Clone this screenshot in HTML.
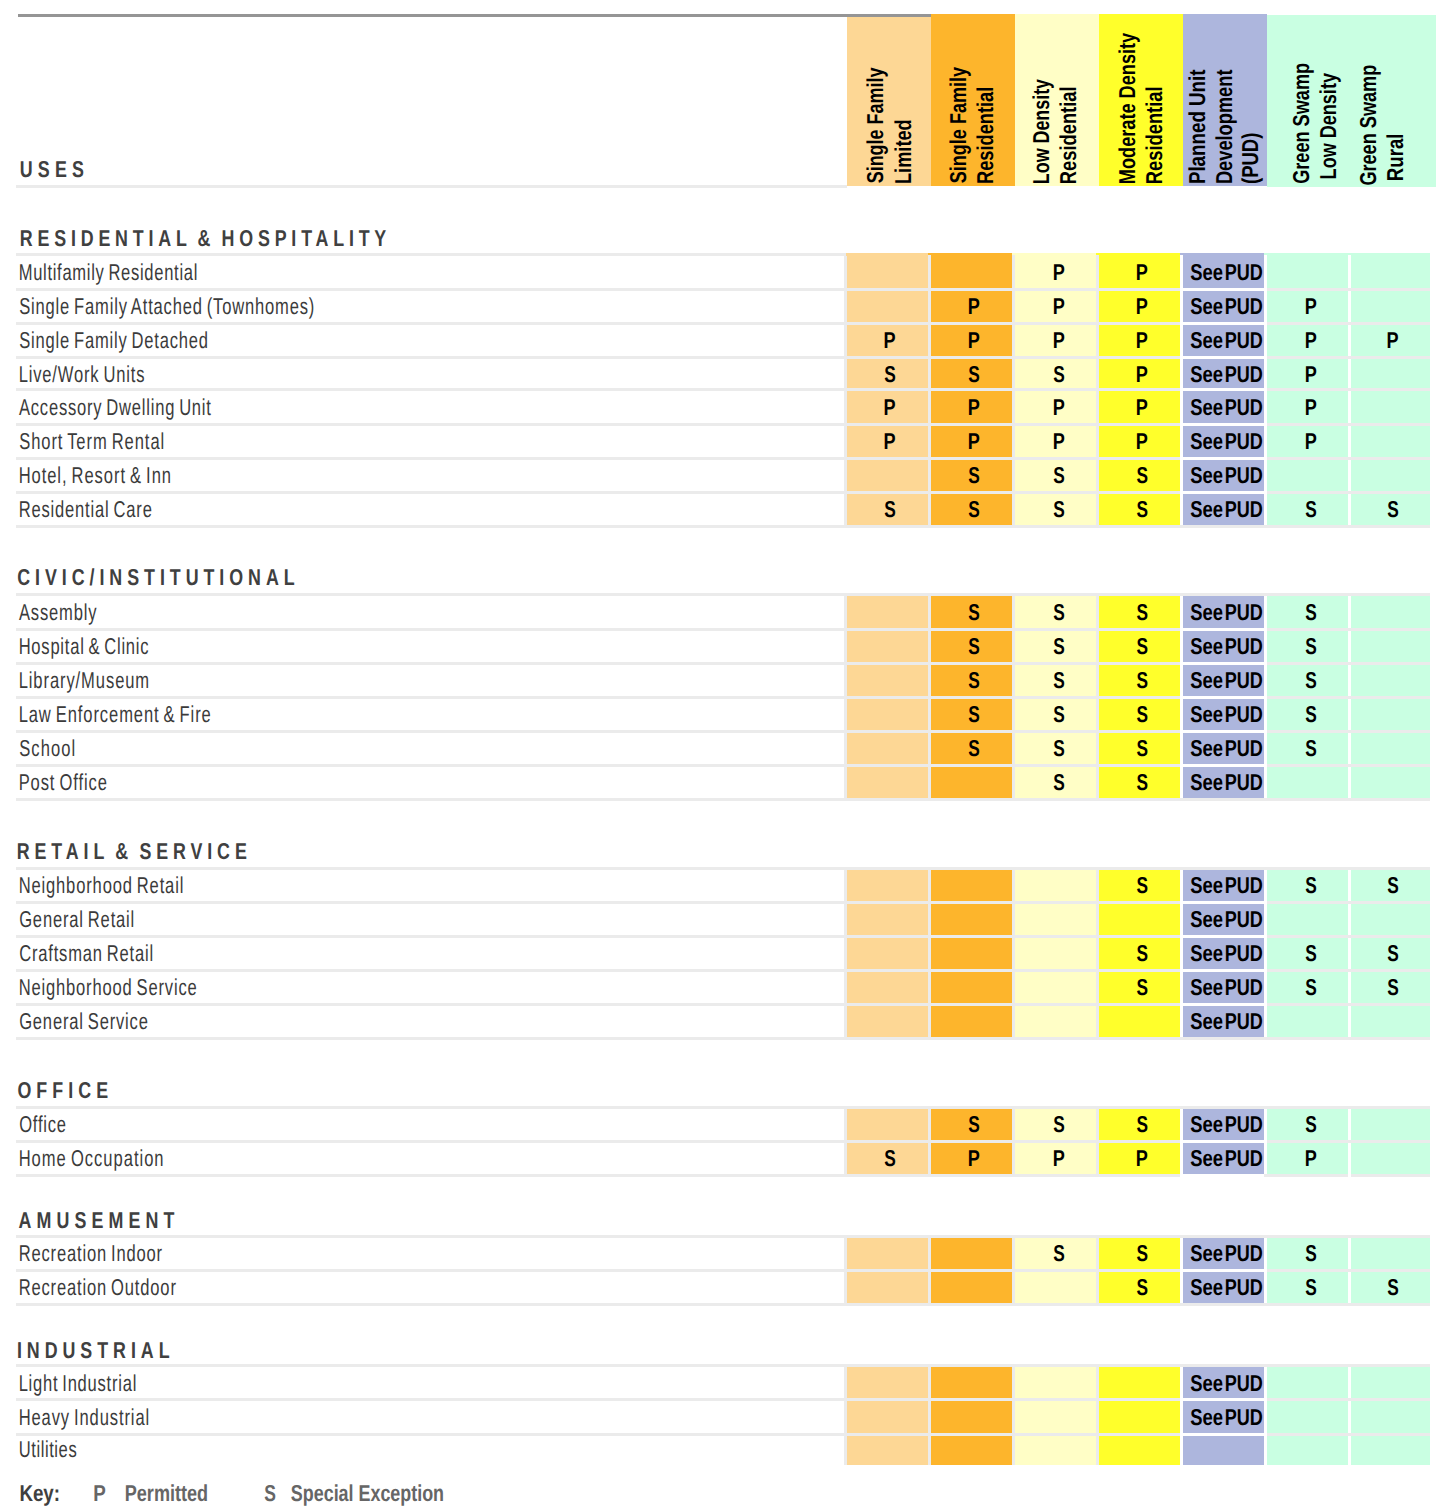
<!DOCTYPE html>
<html><head><meta charset="utf-8"><style>
html,body{margin:0;padding:0;background:#fff;}
svg{display:block;}
text{font-family:"Liberation Sans",sans-serif;font-size:23px;text-rendering:geometricPrecision;}
</style></head><body>
<svg width="1452" height="1506" viewBox="0 0 1452 1506">
<rect width="1452" height="1506" fill="#FFFFFF"/>
<rect x="847" y="17" width="84" height="169" fill="#FDD795"/>
<rect x="931" y="14" width="84" height="172" fill="#FDB52C"/>
<rect x="1015" y="14" width="84" height="172" fill="#FFFEC6"/>
<rect x="1099" y="14" width="84" height="172" fill="#FFFF2B"/>
<rect x="1183" y="14" width="84" height="172" fill="#ADB6DD"/>
<rect x="1267" y="15" width="169" height="172" fill="#C9FFE2"/>
<rect x="18" y="14" width="913" height="3" fill="#959595"/>
<rect x="16" y="185" width="831" height="3" fill="#EBEBEB"/>
<text transform="translate(883.0,183.35) rotate(-90) scale(0.7815,1)" font-weight="bold" fill="#000">Single Family</text>
<text transform="translate(911.1,183.99) rotate(-90) scale(0.7906,1)" font-weight="bold" fill="#000">Limited</text>
<text transform="translate(966.0,183.35) rotate(-90) scale(0.7856,1)" font-weight="bold" fill="#000">Single Family</text>
<text transform="translate(993.1,183.99) rotate(-90) scale(0.7926,1)" font-weight="bold" fill="#000">Residential</text>
<text transform="translate(1049.3,184.16) rotate(-90) scale(0.7765,1)" font-weight="bold" fill="#000">Low Density</text>
<text transform="translate(1076.1,184.20) rotate(-90) scale(0.7968,1)" font-weight="bold" fill="#000">Residential</text>
<text transform="translate(1134.8,184.18) rotate(-90) scale(0.7896,1)" font-weight="bold" fill="#000">Moderate Density</text>
<text transform="translate(1162.2,184.20) rotate(-90) scale(0.7968,1)" font-weight="bold" fill="#000">Residential</text>
<text transform="translate(1204.9,184.12) rotate(-90) scale(0.8156,1)" font-weight="bold" fill="#000">Planned Unit</text>
<text transform="translate(1232.0,184.09) rotate(-90) scale(0.7933,1)" font-weight="bold" fill="#000">Development</text>
<text transform="translate(1257.8,183.98) rotate(-90) scale(0.8036,1)" font-weight="bold" fill="#000">(PUD)</text>
<text transform="translate(1309.0,183.81) rotate(-90) scale(0.7881,1)" font-weight="bold" fill="#000">Green Swamp</text>
<text transform="translate(1336.0,179.38) rotate(-90) scale(0.7848,1)" font-weight="bold" fill="#000">Low Density</text>
<text transform="translate(1376.1,185.61) rotate(-90) scale(0.7881,1)" font-weight="bold" fill="#000">Green Swamp</text>
<text transform="translate(1403.0,181.22) rotate(-90) scale(0.8115,1)" font-weight="bold" fill="#000">Rural</text>
<rect x="16" y="253" width="1414" height="3" fill="#EBEBEB"/>
<rect x="16" y="288" width="1414" height="3" fill="#EBEBEB"/>
<rect x="16" y="322" width="1414" height="3" fill="#EBEBEB"/>
<rect x="16" y="356" width="1414" height="3" fill="#EBEBEB"/>
<rect x="16" y="388" width="1414" height="3" fill="#EBEBEB"/>
<rect x="16" y="423" width="1414" height="3" fill="#EBEBEB"/>
<rect x="16" y="457" width="1414" height="3" fill="#EBEBEB"/>
<rect x="16" y="491" width="1414" height="3" fill="#EBEBEB"/>
<rect x="16" y="525" width="1414" height="3" fill="#EBEBEB"/>
<rect x="844" y="253" width="3" height="275" fill="#EBEBEB"/>
<rect x="928" y="255" width="3" height="273" fill="#EBEBEB"/>
<rect x="1012" y="255" width="3" height="273" fill="#EBEBEB"/>
<rect x="1096" y="255" width="3" height="273" fill="#EBEBEB"/>
<rect x="847" y="256" width="81" height="32" fill="#FDD795"/>
<rect x="931" y="256" width="81" height="32" fill="#FDB52C"/>
<rect x="1015" y="256" width="81" height="32" fill="#FFFEC6"/>
<rect x="1099" y="256" width="81" height="32" fill="#FFFF2B"/>
<rect x="1183" y="256" width="81" height="32" fill="#ADB6DD"/>
<rect x="1267" y="256" width="81" height="32" fill="#C9FFE2"/>
<rect x="1351" y="256" width="79" height="32" fill="#C9FFE2"/>
<rect x="847" y="291" width="81" height="31" fill="#FDD795"/>
<rect x="931" y="291" width="81" height="31" fill="#FDB52C"/>
<rect x="1015" y="291" width="81" height="31" fill="#FFFEC6"/>
<rect x="1099" y="291" width="81" height="31" fill="#FFFF2B"/>
<rect x="1183" y="291" width="81" height="31" fill="#ADB6DD"/>
<rect x="1267" y="291" width="81" height="31" fill="#C9FFE2"/>
<rect x="1351" y="291" width="79" height="31" fill="#C9FFE2"/>
<rect x="847" y="325" width="81" height="31" fill="#FDD795"/>
<rect x="931" y="325" width="81" height="31" fill="#FDB52C"/>
<rect x="1015" y="325" width="81" height="31" fill="#FFFEC6"/>
<rect x="1099" y="325" width="81" height="31" fill="#FFFF2B"/>
<rect x="1183" y="325" width="81" height="31" fill="#ADB6DD"/>
<rect x="1267" y="325" width="81" height="31" fill="#C9FFE2"/>
<rect x="1351" y="325" width="79" height="31" fill="#C9FFE2"/>
<rect x="847" y="359" width="81" height="29" fill="#FDD795"/>
<rect x="931" y="359" width="81" height="29" fill="#FDB52C"/>
<rect x="1015" y="359" width="81" height="29" fill="#FFFEC6"/>
<rect x="1099" y="359" width="81" height="29" fill="#FFFF2B"/>
<rect x="1183" y="359" width="81" height="29" fill="#ADB6DD"/>
<rect x="1267" y="359" width="81" height="29" fill="#C9FFE2"/>
<rect x="1351" y="359" width="79" height="29" fill="#C9FFE2"/>
<rect x="847" y="391" width="81" height="32" fill="#FDD795"/>
<rect x="931" y="391" width="81" height="32" fill="#FDB52C"/>
<rect x="1015" y="391" width="81" height="32" fill="#FFFEC6"/>
<rect x="1099" y="391" width="81" height="32" fill="#FFFF2B"/>
<rect x="1183" y="391" width="81" height="32" fill="#ADB6DD"/>
<rect x="1267" y="391" width="81" height="32" fill="#C9FFE2"/>
<rect x="1351" y="391" width="79" height="32" fill="#C9FFE2"/>
<rect x="847" y="426" width="81" height="31" fill="#FDD795"/>
<rect x="931" y="426" width="81" height="31" fill="#FDB52C"/>
<rect x="1015" y="426" width="81" height="31" fill="#FFFEC6"/>
<rect x="1099" y="426" width="81" height="31" fill="#FFFF2B"/>
<rect x="1183" y="426" width="81" height="31" fill="#ADB6DD"/>
<rect x="1267" y="426" width="81" height="31" fill="#C9FFE2"/>
<rect x="1351" y="426" width="79" height="31" fill="#C9FFE2"/>
<rect x="847" y="460" width="81" height="31" fill="#FDD795"/>
<rect x="931" y="460" width="81" height="31" fill="#FDB52C"/>
<rect x="1015" y="460" width="81" height="31" fill="#FFFEC6"/>
<rect x="1099" y="460" width="81" height="31" fill="#FFFF2B"/>
<rect x="1183" y="460" width="81" height="31" fill="#ADB6DD"/>
<rect x="1267" y="460" width="81" height="31" fill="#C9FFE2"/>
<rect x="1351" y="460" width="79" height="31" fill="#C9FFE2"/>
<rect x="847" y="494" width="81" height="31" fill="#FDD795"/>
<rect x="931" y="494" width="81" height="31" fill="#FDB52C"/>
<rect x="1015" y="494" width="81" height="31" fill="#FFFEC6"/>
<rect x="1099" y="494" width="81" height="31" fill="#FFFF2B"/>
<rect x="1183" y="494" width="81" height="31" fill="#ADB6DD"/>
<rect x="1267" y="494" width="81" height="31" fill="#C9FFE2"/>
<rect x="1351" y="494" width="79" height="31" fill="#C9FFE2"/>
<rect x="846" y="253" width="82" height="3" fill="#FDD795"/>
<rect x="928" y="253" width="84" height="2" fill="#FDB52C"/>
<rect x="931" y="255" width="81" height="1" fill="#FDB52C"/>
<rect x="1012" y="253" width="84" height="2" fill="#FFFEC6"/>
<rect x="1015" y="255" width="81" height="1" fill="#FFFEC6"/>
<rect x="1096" y="253" width="84" height="2" fill="#FFFF2B"/>
<rect x="1099" y="255" width="81" height="1" fill="#FFFF2B"/>
<rect x="1180" y="253" width="84" height="2" fill="#ADB6DD"/>
<rect x="1183" y="255" width="81" height="1" fill="#ADB6DD"/>
<rect x="1264" y="253" width="84" height="2" fill="#C9FFE2"/>
<rect x="1267" y="255" width="81" height="1" fill="#C9FFE2"/>
<rect x="1348" y="253" width="82" height="2" fill="#C9FFE2"/>
<rect x="1351" y="255" width="79" height="1" fill="#C9FFE2"/>
<rect x="1180" y="288" width="87" height="3" fill="#FFFFFF"/>
<rect x="1180" y="322" width="87" height="3" fill="#FFFFFF"/>
<rect x="1180" y="356" width="87" height="3" fill="#FFFFFF"/>
<rect x="1180" y="388" width="87" height="3" fill="#FFFFFF"/>
<rect x="1180" y="423" width="87" height="3" fill="#FFFFFF"/>
<rect x="1180" y="457" width="87" height="3" fill="#FFFFFF"/>
<rect x="1180" y="491" width="87" height="3" fill="#FFFFFF"/>
<rect x="1180" y="255" width="3" height="270" fill="#FFFFFF"/>
<rect x="1264" y="255" width="3" height="270" fill="#FFFFFF"/>
<rect x="1348" y="255" width="3" height="270" fill="#FFFFFF"/>
<rect x="1348" y="288" width="3" height="3" fill="#EBEBEB"/>
<rect x="1348" y="322" width="3" height="3" fill="#EBEBEB"/>
<rect x="1348" y="356" width="3" height="3" fill="#EBEBEB"/>
<rect x="1348" y="388" width="3" height="3" fill="#EBEBEB"/>
<rect x="1348" y="423" width="3" height="3" fill="#EBEBEB"/>
<rect x="1348" y="457" width="3" height="3" fill="#EBEBEB"/>
<rect x="1348" y="491" width="3" height="3" fill="#EBEBEB"/>
<text transform="translate(19.84,246) scale(0.7750,1)" font-weight="bold" letter-spacing="6.214" word-spacing="-4.5" fill="#404040" xml:space="preserve">RESIDENTIAL &amp; HOSPITALITY</text>
<text transform="translate(18.63,280) scale(0.7200,1)" letter-spacing="0.976" word-spacing="-2.0" fill="#3B3B3B" xml:space="preserve">Multifamily Residential</text>
<text transform="translate(1052.72,280) scale(0.7863,1)" font-weight="bold" fill="#000000">P</text>
<text transform="translate(1135.82,280) scale(0.7863,1)" font-weight="bold" fill="#000000">P</text>
<text transform="translate(1190.14,280) scale(0.7995,1)" font-weight="bold" fill="#000000">See</text>
<text transform="translate(1224.72,280) scale(0.7852,1)" font-weight="bold" fill="#000000">PUD</text>
<text transform="translate(19.21,314) scale(0.7200,1)" letter-spacing="1.135" word-spacing="-2.0" fill="#3B3B3B" xml:space="preserve">Single Family Attached (Townhomes)</text>
<text transform="translate(967.72,314) scale(0.7863,1)" font-weight="bold" fill="#000000">P</text>
<text transform="translate(1052.72,314) scale(0.7863,1)" font-weight="bold" fill="#000000">P</text>
<text transform="translate(1135.82,314) scale(0.7863,1)" font-weight="bold" fill="#000000">P</text>
<text transform="translate(1190.14,314) scale(0.7995,1)" font-weight="bold" fill="#000000">See</text>
<text transform="translate(1224.72,314) scale(0.7852,1)" font-weight="bold" fill="#000000">PUD</text>
<text transform="translate(1304.72,314) scale(0.7863,1)" font-weight="bold" fill="#000000">P</text>
<text transform="translate(19.21,348) scale(0.7200,1)" letter-spacing="1.115" word-spacing="-2.0" fill="#3B3B3B" xml:space="preserve">Single Family Detached</text>
<text transform="translate(883.62,348) scale(0.7863,1)" font-weight="bold" fill="#000000">P</text>
<text transform="translate(967.72,348) scale(0.7863,1)" font-weight="bold" fill="#000000">P</text>
<text transform="translate(1052.72,348) scale(0.7863,1)" font-weight="bold" fill="#000000">P</text>
<text transform="translate(1135.82,348) scale(0.7863,1)" font-weight="bold" fill="#000000">P</text>
<text transform="translate(1190.14,348) scale(0.7995,1)" font-weight="bold" fill="#000000">See</text>
<text transform="translate(1224.72,348) scale(0.7852,1)" font-weight="bold" fill="#000000">PUD</text>
<text transform="translate(1304.72,348) scale(0.7863,1)" font-weight="bold" fill="#000000">P</text>
<text transform="translate(1386.62,348) scale(0.7863,1)" font-weight="bold" fill="#000000">P</text>
<text transform="translate(18.63,382) scale(0.7200,1)" letter-spacing="1.156" word-spacing="-2.0" fill="#3B3B3B" xml:space="preserve">Live/Work Units</text>
<text transform="translate(884.27,382) scale(0.7518,1)" font-weight="bold" fill="#000000">S</text>
<text transform="translate(968.37,382) scale(0.7518,1)" font-weight="bold" fill="#000000">S</text>
<text transform="translate(1053.37,382) scale(0.7518,1)" font-weight="bold" fill="#000000">S</text>
<text transform="translate(1135.82,382) scale(0.7863,1)" font-weight="bold" fill="#000000">P</text>
<text transform="translate(1190.14,382) scale(0.7995,1)" font-weight="bold" fill="#000000">See</text>
<text transform="translate(1224.72,382) scale(0.7852,1)" font-weight="bold" fill="#000000">PUD</text>
<text transform="translate(1304.72,382) scale(0.7863,1)" font-weight="bold" fill="#000000">P</text>
<text transform="translate(18.93,415) scale(0.7200,1)" letter-spacing="1.090" word-spacing="-2.0" fill="#3B3B3B" xml:space="preserve">Accessory Dwelling Unit</text>
<text transform="translate(883.62,415) scale(0.7863,1)" font-weight="bold" fill="#000000">P</text>
<text transform="translate(967.72,415) scale(0.7863,1)" font-weight="bold" fill="#000000">P</text>
<text transform="translate(1052.72,415) scale(0.7863,1)" font-weight="bold" fill="#000000">P</text>
<text transform="translate(1135.82,415) scale(0.7863,1)" font-weight="bold" fill="#000000">P</text>
<text transform="translate(1190.14,415) scale(0.7995,1)" font-weight="bold" fill="#000000">See</text>
<text transform="translate(1224.72,415) scale(0.7852,1)" font-weight="bold" fill="#000000">PUD</text>
<text transform="translate(1304.72,415) scale(0.7863,1)" font-weight="bold" fill="#000000">P</text>
<text transform="translate(19.21,449) scale(0.7200,1)" letter-spacing="1.278" word-spacing="-2.0" fill="#3B3B3B" xml:space="preserve">Short Term Rental</text>
<text transform="translate(883.62,449) scale(0.7863,1)" font-weight="bold" fill="#000000">P</text>
<text transform="translate(967.72,449) scale(0.7863,1)" font-weight="bold" fill="#000000">P</text>
<text transform="translate(1052.72,449) scale(0.7863,1)" font-weight="bold" fill="#000000">P</text>
<text transform="translate(1135.82,449) scale(0.7863,1)" font-weight="bold" fill="#000000">P</text>
<text transform="translate(1190.14,449) scale(0.7995,1)" font-weight="bold" fill="#000000">See</text>
<text transform="translate(1224.72,449) scale(0.7852,1)" font-weight="bold" fill="#000000">PUD</text>
<text transform="translate(1304.72,449) scale(0.7863,1)" font-weight="bold" fill="#000000">P</text>
<text transform="translate(18.63,483) scale(0.7200,1)" letter-spacing="1.294" word-spacing="-2.0" fill="#3B3B3B" xml:space="preserve">Hotel, Resort &amp; Inn</text>
<text transform="translate(968.37,483) scale(0.7518,1)" font-weight="bold" fill="#000000">S</text>
<text transform="translate(1053.37,483) scale(0.7518,1)" font-weight="bold" fill="#000000">S</text>
<text transform="translate(1136.47,483) scale(0.7518,1)" font-weight="bold" fill="#000000">S</text>
<text transform="translate(1190.14,483) scale(0.7995,1)" font-weight="bold" fill="#000000">See</text>
<text transform="translate(1224.72,483) scale(0.7852,1)" font-weight="bold" fill="#000000">PUD</text>
<text transform="translate(18.63,517) scale(0.7200,1)" letter-spacing="1.132" word-spacing="-2.0" fill="#3B3B3B" xml:space="preserve">Residential Care</text>
<text transform="translate(884.27,517) scale(0.7518,1)" font-weight="bold" fill="#000000">S</text>
<text transform="translate(968.37,517) scale(0.7518,1)" font-weight="bold" fill="#000000">S</text>
<text transform="translate(1053.37,517) scale(0.7518,1)" font-weight="bold" fill="#000000">S</text>
<text transform="translate(1136.47,517) scale(0.7518,1)" font-weight="bold" fill="#000000">S</text>
<text transform="translate(1190.14,517) scale(0.7995,1)" font-weight="bold" fill="#000000">See</text>
<text transform="translate(1224.72,517) scale(0.7852,1)" font-weight="bold" fill="#000000">PUD</text>
<text transform="translate(1305.37,517) scale(0.7518,1)" font-weight="bold" fill="#000000">S</text>
<text transform="translate(1387.27,517) scale(0.7518,1)" font-weight="bold" fill="#000000">S</text>
<rect x="16" y="593" width="1414" height="3" fill="#EBEBEB"/>
<rect x="16" y="628" width="1414" height="3" fill="#EBEBEB"/>
<rect x="16" y="662" width="1414" height="3" fill="#EBEBEB"/>
<rect x="16" y="696" width="1414" height="3" fill="#EBEBEB"/>
<rect x="16" y="730" width="1414" height="3" fill="#EBEBEB"/>
<rect x="16" y="764" width="1414" height="3" fill="#EBEBEB"/>
<rect x="16" y="798" width="1414" height="3" fill="#EBEBEB"/>
<rect x="844" y="593" width="3" height="208" fill="#EBEBEB"/>
<rect x="928" y="596" width="3" height="205" fill="#EBEBEB"/>
<rect x="1012" y="596" width="3" height="205" fill="#EBEBEB"/>
<rect x="1096" y="596" width="3" height="205" fill="#EBEBEB"/>
<rect x="847" y="596" width="81" height="32" fill="#FDD795"/>
<rect x="931" y="596" width="81" height="32" fill="#FDB52C"/>
<rect x="1015" y="596" width="81" height="32" fill="#FFFEC6"/>
<rect x="1099" y="596" width="81" height="32" fill="#FFFF2B"/>
<rect x="1183" y="596" width="81" height="32" fill="#ADB6DD"/>
<rect x="1267" y="596" width="81" height="32" fill="#C9FFE2"/>
<rect x="1351" y="596" width="79" height="32" fill="#C9FFE2"/>
<rect x="847" y="631" width="81" height="31" fill="#FDD795"/>
<rect x="931" y="631" width="81" height="31" fill="#FDB52C"/>
<rect x="1015" y="631" width="81" height="31" fill="#FFFEC6"/>
<rect x="1099" y="631" width="81" height="31" fill="#FFFF2B"/>
<rect x="1183" y="631" width="81" height="31" fill="#ADB6DD"/>
<rect x="1267" y="631" width="81" height="31" fill="#C9FFE2"/>
<rect x="1351" y="631" width="79" height="31" fill="#C9FFE2"/>
<rect x="847" y="665" width="81" height="31" fill="#FDD795"/>
<rect x="931" y="665" width="81" height="31" fill="#FDB52C"/>
<rect x="1015" y="665" width="81" height="31" fill="#FFFEC6"/>
<rect x="1099" y="665" width="81" height="31" fill="#FFFF2B"/>
<rect x="1183" y="665" width="81" height="31" fill="#ADB6DD"/>
<rect x="1267" y="665" width="81" height="31" fill="#C9FFE2"/>
<rect x="1351" y="665" width="79" height="31" fill="#C9FFE2"/>
<rect x="847" y="699" width="81" height="31" fill="#FDD795"/>
<rect x="931" y="699" width="81" height="31" fill="#FDB52C"/>
<rect x="1015" y="699" width="81" height="31" fill="#FFFEC6"/>
<rect x="1099" y="699" width="81" height="31" fill="#FFFF2B"/>
<rect x="1183" y="699" width="81" height="31" fill="#ADB6DD"/>
<rect x="1267" y="699" width="81" height="31" fill="#C9FFE2"/>
<rect x="1351" y="699" width="79" height="31" fill="#C9FFE2"/>
<rect x="847" y="733" width="81" height="31" fill="#FDD795"/>
<rect x="931" y="733" width="81" height="31" fill="#FDB52C"/>
<rect x="1015" y="733" width="81" height="31" fill="#FFFEC6"/>
<rect x="1099" y="733" width="81" height="31" fill="#FFFF2B"/>
<rect x="1183" y="733" width="81" height="31" fill="#ADB6DD"/>
<rect x="1267" y="733" width="81" height="31" fill="#C9FFE2"/>
<rect x="1351" y="733" width="79" height="31" fill="#C9FFE2"/>
<rect x="847" y="767" width="81" height="31" fill="#FDD795"/>
<rect x="931" y="767" width="81" height="31" fill="#FDB52C"/>
<rect x="1015" y="767" width="81" height="31" fill="#FFFEC6"/>
<rect x="1099" y="767" width="81" height="31" fill="#FFFF2B"/>
<rect x="1183" y="767" width="81" height="31" fill="#ADB6DD"/>
<rect x="1267" y="767" width="81" height="31" fill="#C9FFE2"/>
<rect x="1351" y="767" width="79" height="31" fill="#C9FFE2"/>
<rect x="1180" y="628" width="87" height="3" fill="#FFFFFF"/>
<rect x="1180" y="662" width="87" height="3" fill="#FFFFFF"/>
<rect x="1180" y="696" width="87" height="3" fill="#FFFFFF"/>
<rect x="1180" y="730" width="87" height="3" fill="#FFFFFF"/>
<rect x="1180" y="764" width="87" height="3" fill="#FFFFFF"/>
<rect x="1180" y="596" width="3" height="202" fill="#FFFFFF"/>
<rect x="1264" y="596" width="3" height="202" fill="#FFFFFF"/>
<rect x="1348" y="596" width="3" height="202" fill="#FFFFFF"/>
<rect x="1348" y="628" width="3" height="3" fill="#EBEBEB"/>
<rect x="1348" y="662" width="3" height="3" fill="#EBEBEB"/>
<rect x="1348" y="696" width="3" height="3" fill="#EBEBEB"/>
<rect x="1348" y="730" width="3" height="3" fill="#EBEBEB"/>
<rect x="1348" y="764" width="3" height="3" fill="#EBEBEB"/>
<text transform="translate(17.20,585) scale(0.7750,1)" font-weight="bold" letter-spacing="6.399" word-spacing="0" fill="#404040" xml:space="preserve">CIVIC/INSTITUTIONAL</text>
<text transform="translate(18.93,620) scale(0.7200,1)" letter-spacing="1.163" fill="#3B3B3B" xml:space="preserve">Assembly</text>
<text transform="translate(968.37,620) scale(0.7518,1)" font-weight="bold" fill="#000000">S</text>
<text transform="translate(1053.37,620) scale(0.7518,1)" font-weight="bold" fill="#000000">S</text>
<text transform="translate(1136.47,620) scale(0.7518,1)" font-weight="bold" fill="#000000">S</text>
<text transform="translate(1190.14,620) scale(0.7995,1)" font-weight="bold" fill="#000000">See</text>
<text transform="translate(1224.72,620) scale(0.7852,1)" font-weight="bold" fill="#000000">PUD</text>
<text transform="translate(1305.37,620) scale(0.7518,1)" font-weight="bold" fill="#000000">S</text>
<text transform="translate(18.63,654) scale(0.7200,1)" letter-spacing="1.064" word-spacing="-2.0" fill="#3B3B3B" xml:space="preserve">Hospital &amp; Clinic</text>
<text transform="translate(968.37,654) scale(0.7518,1)" font-weight="bold" fill="#000000">S</text>
<text transform="translate(1053.37,654) scale(0.7518,1)" font-weight="bold" fill="#000000">S</text>
<text transform="translate(1136.47,654) scale(0.7518,1)" font-weight="bold" fill="#000000">S</text>
<text transform="translate(1190.14,654) scale(0.7995,1)" font-weight="bold" fill="#000000">See</text>
<text transform="translate(1224.72,654) scale(0.7852,1)" font-weight="bold" fill="#000000">PUD</text>
<text transform="translate(1305.37,654) scale(0.7518,1)" font-weight="bold" fill="#000000">S</text>
<text transform="translate(18.63,688) scale(0.7200,1)" letter-spacing="1.263" fill="#3B3B3B" xml:space="preserve">Library/Museum</text>
<text transform="translate(968.37,688) scale(0.7518,1)" font-weight="bold" fill="#000000">S</text>
<text transform="translate(1053.37,688) scale(0.7518,1)" font-weight="bold" fill="#000000">S</text>
<text transform="translate(1136.47,688) scale(0.7518,1)" font-weight="bold" fill="#000000">S</text>
<text transform="translate(1190.14,688) scale(0.7995,1)" font-weight="bold" fill="#000000">See</text>
<text transform="translate(1224.72,688) scale(0.7852,1)" font-weight="bold" fill="#000000">PUD</text>
<text transform="translate(1305.37,688) scale(0.7518,1)" font-weight="bold" fill="#000000">S</text>
<text transform="translate(18.63,722) scale(0.7200,1)" letter-spacing="1.249" word-spacing="-2.0" fill="#3B3B3B" xml:space="preserve">Law Enforcement &amp; Fire</text>
<text transform="translate(968.37,722) scale(0.7518,1)" font-weight="bold" fill="#000000">S</text>
<text transform="translate(1053.37,722) scale(0.7518,1)" font-weight="bold" fill="#000000">S</text>
<text transform="translate(1136.47,722) scale(0.7518,1)" font-weight="bold" fill="#000000">S</text>
<text transform="translate(1190.14,722) scale(0.7995,1)" font-weight="bold" fill="#000000">See</text>
<text transform="translate(1224.72,722) scale(0.7852,1)" font-weight="bold" fill="#000000">PUD</text>
<text transform="translate(1305.37,722) scale(0.7518,1)" font-weight="bold" fill="#000000">S</text>
<text transform="translate(19.21,756) scale(0.7200,1)" letter-spacing="1.516" fill="#3B3B3B" xml:space="preserve">School</text>
<text transform="translate(968.37,756) scale(0.7518,1)" font-weight="bold" fill="#000000">S</text>
<text transform="translate(1053.37,756) scale(0.7518,1)" font-weight="bold" fill="#000000">S</text>
<text transform="translate(1136.47,756) scale(0.7518,1)" font-weight="bold" fill="#000000">S</text>
<text transform="translate(1190.14,756) scale(0.7995,1)" font-weight="bold" fill="#000000">See</text>
<text transform="translate(1224.72,756) scale(0.7852,1)" font-weight="bold" fill="#000000">PUD</text>
<text transform="translate(1305.37,756) scale(0.7518,1)" font-weight="bold" fill="#000000">S</text>
<text transform="translate(18.63,790) scale(0.7200,1)" letter-spacing="1.248" word-spacing="-2.0" fill="#3B3B3B" xml:space="preserve">Post Office</text>
<text transform="translate(1053.37,790) scale(0.7518,1)" font-weight="bold" fill="#000000">S</text>
<text transform="translate(1136.47,790) scale(0.7518,1)" font-weight="bold" fill="#000000">S</text>
<text transform="translate(1190.14,790) scale(0.7995,1)" font-weight="bold" fill="#000000">See</text>
<text transform="translate(1224.72,790) scale(0.7852,1)" font-weight="bold" fill="#000000">PUD</text>
<rect x="16" y="867" width="1414" height="3" fill="#EBEBEB"/>
<rect x="16" y="901" width="1414" height="3" fill="#EBEBEB"/>
<rect x="16" y="935" width="1414" height="3" fill="#EBEBEB"/>
<rect x="16" y="969" width="1414" height="3" fill="#EBEBEB"/>
<rect x="16" y="1003" width="1414" height="3" fill="#EBEBEB"/>
<rect x="16" y="1037" width="1414" height="3" fill="#EBEBEB"/>
<rect x="844" y="867" width="3" height="173" fill="#EBEBEB"/>
<rect x="928" y="870" width="3" height="170" fill="#EBEBEB"/>
<rect x="1012" y="870" width="3" height="170" fill="#EBEBEB"/>
<rect x="1096" y="870" width="3" height="170" fill="#EBEBEB"/>
<rect x="847" y="870" width="81" height="31" fill="#FDD795"/>
<rect x="931" y="870" width="81" height="31" fill="#FDB52C"/>
<rect x="1015" y="870" width="81" height="31" fill="#FFFEC6"/>
<rect x="1099" y="870" width="81" height="31" fill="#FFFF2B"/>
<rect x="1183" y="870" width="81" height="31" fill="#ADB6DD"/>
<rect x="1267" y="870" width="81" height="31" fill="#C9FFE2"/>
<rect x="1351" y="870" width="79" height="31" fill="#C9FFE2"/>
<rect x="847" y="904" width="81" height="31" fill="#FDD795"/>
<rect x="931" y="904" width="81" height="31" fill="#FDB52C"/>
<rect x="1015" y="904" width="81" height="31" fill="#FFFEC6"/>
<rect x="1099" y="904" width="81" height="31" fill="#FFFF2B"/>
<rect x="1183" y="904" width="81" height="31" fill="#ADB6DD"/>
<rect x="1267" y="904" width="81" height="31" fill="#C9FFE2"/>
<rect x="1351" y="904" width="79" height="31" fill="#C9FFE2"/>
<rect x="847" y="938" width="81" height="31" fill="#FDD795"/>
<rect x="931" y="938" width="81" height="31" fill="#FDB52C"/>
<rect x="1015" y="938" width="81" height="31" fill="#FFFEC6"/>
<rect x="1099" y="938" width="81" height="31" fill="#FFFF2B"/>
<rect x="1183" y="938" width="81" height="31" fill="#ADB6DD"/>
<rect x="1267" y="938" width="81" height="31" fill="#C9FFE2"/>
<rect x="1351" y="938" width="79" height="31" fill="#C9FFE2"/>
<rect x="847" y="972" width="81" height="31" fill="#FDD795"/>
<rect x="931" y="972" width="81" height="31" fill="#FDB52C"/>
<rect x="1015" y="972" width="81" height="31" fill="#FFFEC6"/>
<rect x="1099" y="972" width="81" height="31" fill="#FFFF2B"/>
<rect x="1183" y="972" width="81" height="31" fill="#ADB6DD"/>
<rect x="1267" y="972" width="81" height="31" fill="#C9FFE2"/>
<rect x="1351" y="972" width="79" height="31" fill="#C9FFE2"/>
<rect x="847" y="1006" width="81" height="31" fill="#FDD795"/>
<rect x="931" y="1006" width="81" height="31" fill="#FDB52C"/>
<rect x="1015" y="1006" width="81" height="31" fill="#FFFEC6"/>
<rect x="1099" y="1006" width="81" height="31" fill="#FFFF2B"/>
<rect x="1183" y="1006" width="81" height="31" fill="#ADB6DD"/>
<rect x="1267" y="1006" width="81" height="31" fill="#C9FFE2"/>
<rect x="1351" y="1006" width="79" height="31" fill="#C9FFE2"/>
<rect x="1180" y="901" width="87" height="3" fill="#FFFFFF"/>
<rect x="1180" y="935" width="87" height="3" fill="#FFFFFF"/>
<rect x="1180" y="969" width="87" height="3" fill="#FFFFFF"/>
<rect x="1180" y="1003" width="87" height="3" fill="#FFFFFF"/>
<rect x="1180" y="870" width="3" height="167" fill="#FFFFFF"/>
<rect x="1264" y="870" width="3" height="167" fill="#FFFFFF"/>
<rect x="1348" y="870" width="3" height="167" fill="#FFFFFF"/>
<rect x="1348" y="901" width="3" height="3" fill="#EBEBEB"/>
<rect x="1348" y="935" width="3" height="3" fill="#EBEBEB"/>
<rect x="1348" y="969" width="3" height="3" fill="#EBEBEB"/>
<rect x="1348" y="1003" width="3" height="3" fill="#EBEBEB"/>
<text transform="translate(16.74,859) scale(0.7750,1)" font-weight="bold" letter-spacing="6.330" word-spacing="-4.5" fill="#404040" xml:space="preserve">RETAIL &amp; SERVICE</text>
<text transform="translate(18.63,893) scale(0.7200,1)" letter-spacing="1.171" word-spacing="-2.0" fill="#3B3B3B" xml:space="preserve">Neighborhood Retail</text>
<text transform="translate(1136.47,893) scale(0.7518,1)" font-weight="bold" fill="#000000">S</text>
<text transform="translate(1190.14,893) scale(0.7995,1)" font-weight="bold" fill="#000000">See</text>
<text transform="translate(1224.72,893) scale(0.7852,1)" font-weight="bold" fill="#000000">PUD</text>
<text transform="translate(1305.37,893) scale(0.7518,1)" font-weight="bold" fill="#000000">S</text>
<text transform="translate(1387.27,893) scale(0.7518,1)" font-weight="bold" fill="#000000">S</text>
<text transform="translate(19.14,927) scale(0.7200,1)" letter-spacing="1.148" word-spacing="-2.0" fill="#3B3B3B" xml:space="preserve">General Retail</text>
<text transform="translate(1190.14,927) scale(0.7995,1)" font-weight="bold" fill="#000000">See</text>
<text transform="translate(1224.72,927) scale(0.7852,1)" font-weight="bold" fill="#000000">PUD</text>
<text transform="translate(19.14,961) scale(0.7200,1)" letter-spacing="1.122" word-spacing="-2.0" fill="#3B3B3B" xml:space="preserve">Craftsman Retail</text>
<text transform="translate(1136.47,961) scale(0.7518,1)" font-weight="bold" fill="#000000">S</text>
<text transform="translate(1190.14,961) scale(0.7995,1)" font-weight="bold" fill="#000000">See</text>
<text transform="translate(1224.72,961) scale(0.7852,1)" font-weight="bold" fill="#000000">PUD</text>
<text transform="translate(1305.37,961) scale(0.7518,1)" font-weight="bold" fill="#000000">S</text>
<text transform="translate(1387.27,961) scale(0.7518,1)" font-weight="bold" fill="#000000">S</text>
<text transform="translate(18.63,995) scale(0.7200,1)" letter-spacing="1.152" word-spacing="-2.0" fill="#3B3B3B" xml:space="preserve">Neighborhood Service</text>
<text transform="translate(1136.47,995) scale(0.7518,1)" font-weight="bold" fill="#000000">S</text>
<text transform="translate(1190.14,995) scale(0.7995,1)" font-weight="bold" fill="#000000">See</text>
<text transform="translate(1224.72,995) scale(0.7852,1)" font-weight="bold" fill="#000000">PUD</text>
<text transform="translate(1305.37,995) scale(0.7518,1)" font-weight="bold" fill="#000000">S</text>
<text transform="translate(1387.27,995) scale(0.7518,1)" font-weight="bold" fill="#000000">S</text>
<text transform="translate(19.14,1029) scale(0.7200,1)" letter-spacing="1.140" word-spacing="-2.0" fill="#3B3B3B" xml:space="preserve">General Service</text>
<text transform="translate(1190.14,1029) scale(0.7995,1)" font-weight="bold" fill="#000000">See</text>
<text transform="translate(1224.72,1029) scale(0.7852,1)" font-weight="bold" fill="#000000">PUD</text>
<rect x="16" y="1106" width="1414" height="3" fill="#EBEBEB"/>
<rect x="16" y="1140" width="1414" height="3" fill="#EBEBEB"/>
<rect x="16" y="1174" width="1414" height="3" fill="#EBEBEB"/>
<rect x="844" y="1106" width="3" height="71" fill="#EBEBEB"/>
<rect x="928" y="1109" width="3" height="68" fill="#EBEBEB"/>
<rect x="1012" y="1109" width="3" height="68" fill="#EBEBEB"/>
<rect x="1096" y="1109" width="3" height="68" fill="#EBEBEB"/>
<rect x="847" y="1109" width="81" height="31" fill="#FDD795"/>
<rect x="931" y="1109" width="81" height="31" fill="#FDB52C"/>
<rect x="1015" y="1109" width="81" height="31" fill="#FFFEC6"/>
<rect x="1099" y="1109" width="81" height="31" fill="#FFFF2B"/>
<rect x="1183" y="1109" width="81" height="31" fill="#ADB6DD"/>
<rect x="1267" y="1109" width="81" height="31" fill="#C9FFE2"/>
<rect x="1351" y="1109" width="79" height="31" fill="#C9FFE2"/>
<rect x="847" y="1143" width="81" height="31" fill="#FDD795"/>
<rect x="931" y="1143" width="81" height="31" fill="#FDB52C"/>
<rect x="1015" y="1143" width="81" height="31" fill="#FFFEC6"/>
<rect x="1099" y="1143" width="81" height="31" fill="#FFFF2B"/>
<rect x="1183" y="1143" width="81" height="31" fill="#ADB6DD"/>
<rect x="1267" y="1143" width="81" height="31" fill="#C9FFE2"/>
<rect x="1351" y="1143" width="79" height="31" fill="#C9FFE2"/>
<rect x="1180" y="1140" width="87" height="3" fill="#FFFFFF"/>
<rect x="1180" y="1109" width="3" height="65" fill="#FFFFFF"/>
<rect x="1264" y="1109" width="3" height="65" fill="#FFFFFF"/>
<rect x="1348" y="1109" width="3" height="65" fill="#FFFFFF"/>
<rect x="1348" y="1140" width="3" height="3" fill="#EBEBEB"/>
<rect x="1180" y="1174" width="84" height="3" fill="#FFFFFF"/>
<rect x="1348" y="1174" width="3" height="3" fill="#FFFFFF"/>
<text transform="translate(17.40,1098) scale(0.7750,1)" font-weight="bold" letter-spacing="6.519" word-spacing="0" fill="#404040" xml:space="preserve">OFFICE</text>
<text transform="translate(19.21,1132) scale(0.7200,1)" letter-spacing="1.083" fill="#3B3B3B" xml:space="preserve">Office</text>
<text transform="translate(968.37,1132) scale(0.7518,1)" font-weight="bold" fill="#000000">S</text>
<text transform="translate(1053.37,1132) scale(0.7518,1)" font-weight="bold" fill="#000000">S</text>
<text transform="translate(1136.47,1132) scale(0.7518,1)" font-weight="bold" fill="#000000">S</text>
<text transform="translate(1190.14,1132) scale(0.7995,1)" font-weight="bold" fill="#000000">See</text>
<text transform="translate(1224.72,1132) scale(0.7852,1)" font-weight="bold" fill="#000000">PUD</text>
<text transform="translate(1305.37,1132) scale(0.7518,1)" font-weight="bold" fill="#000000">S</text>
<text transform="translate(18.63,1166) scale(0.7200,1)" letter-spacing="1.373" word-spacing="-2.0" fill="#3B3B3B" xml:space="preserve">Home Occupation</text>
<text transform="translate(884.27,1166) scale(0.7518,1)" font-weight="bold" fill="#000000">S</text>
<text transform="translate(967.72,1166) scale(0.7863,1)" font-weight="bold" fill="#000000">P</text>
<text transform="translate(1052.72,1166) scale(0.7863,1)" font-weight="bold" fill="#000000">P</text>
<text transform="translate(1135.82,1166) scale(0.7863,1)" font-weight="bold" fill="#000000">P</text>
<text transform="translate(1190.14,1166) scale(0.7995,1)" font-weight="bold" fill="#000000">See</text>
<text transform="translate(1224.72,1166) scale(0.7852,1)" font-weight="bold" fill="#000000">PUD</text>
<text transform="translate(1304.72,1166) scale(0.7863,1)" font-weight="bold" fill="#000000">P</text>
<rect x="16" y="1235" width="1414" height="3" fill="#EBEBEB"/>
<rect x="16" y="1269" width="1414" height="3" fill="#EBEBEB"/>
<rect x="16" y="1303" width="1414" height="3" fill="#EBEBEB"/>
<rect x="844" y="1235" width="3" height="71" fill="#EBEBEB"/>
<rect x="928" y="1238" width="3" height="68" fill="#EBEBEB"/>
<rect x="1012" y="1238" width="3" height="68" fill="#EBEBEB"/>
<rect x="1096" y="1238" width="3" height="68" fill="#EBEBEB"/>
<rect x="847" y="1238" width="81" height="31" fill="#FDD795"/>
<rect x="931" y="1238" width="81" height="31" fill="#FDB52C"/>
<rect x="1015" y="1238" width="81" height="31" fill="#FFFEC6"/>
<rect x="1099" y="1238" width="81" height="31" fill="#FFFF2B"/>
<rect x="1183" y="1238" width="81" height="31" fill="#ADB6DD"/>
<rect x="1267" y="1238" width="81" height="31" fill="#C9FFE2"/>
<rect x="1351" y="1238" width="79" height="31" fill="#C9FFE2"/>
<rect x="847" y="1272" width="81" height="31" fill="#FDD795"/>
<rect x="931" y="1272" width="81" height="31" fill="#FDB52C"/>
<rect x="1015" y="1272" width="81" height="31" fill="#FFFEC6"/>
<rect x="1099" y="1272" width="81" height="31" fill="#FFFF2B"/>
<rect x="1183" y="1272" width="81" height="31" fill="#ADB6DD"/>
<rect x="1267" y="1272" width="81" height="31" fill="#C9FFE2"/>
<rect x="1351" y="1272" width="79" height="31" fill="#C9FFE2"/>
<rect x="1180" y="1269" width="87" height="3" fill="#FFFFFF"/>
<rect x="1180" y="1238" width="3" height="65" fill="#FFFFFF"/>
<rect x="1264" y="1238" width="3" height="65" fill="#FFFFFF"/>
<rect x="1348" y="1238" width="3" height="65" fill="#FFFFFF"/>
<rect x="1348" y="1269" width="3" height="3" fill="#EBEBEB"/>
<text transform="translate(18.43,1228) scale(0.7750,1)" font-weight="bold" letter-spacing="6.623" word-spacing="0" fill="#404040" xml:space="preserve">AMUSEMENT</text>
<text transform="translate(18.63,1261) scale(0.7200,1)" letter-spacing="1.155" word-spacing="-2.0" fill="#3B3B3B" xml:space="preserve">Recreation Indoor</text>
<text transform="translate(1053.37,1261) scale(0.7518,1)" font-weight="bold" fill="#000000">S</text>
<text transform="translate(1136.47,1261) scale(0.7518,1)" font-weight="bold" fill="#000000">S</text>
<text transform="translate(1190.14,1261) scale(0.7995,1)" font-weight="bold" fill="#000000">See</text>
<text transform="translate(1224.72,1261) scale(0.7852,1)" font-weight="bold" fill="#000000">PUD</text>
<text transform="translate(1305.37,1261) scale(0.7518,1)" font-weight="bold" fill="#000000">S</text>
<text transform="translate(18.63,1295) scale(0.7200,1)" letter-spacing="1.162" word-spacing="-2.0" fill="#3B3B3B" xml:space="preserve">Recreation Outdoor</text>
<text transform="translate(1136.47,1295) scale(0.7518,1)" font-weight="bold" fill="#000000">S</text>
<text transform="translate(1190.14,1295) scale(0.7995,1)" font-weight="bold" fill="#000000">See</text>
<text transform="translate(1224.72,1295) scale(0.7852,1)" font-weight="bold" fill="#000000">PUD</text>
<text transform="translate(1305.37,1295) scale(0.7518,1)" font-weight="bold" fill="#000000">S</text>
<text transform="translate(1387.27,1295) scale(0.7518,1)" font-weight="bold" fill="#000000">S</text>
<rect x="16" y="1364" width="1414" height="3" fill="#EBEBEB"/>
<rect x="16" y="1398" width="1414" height="3" fill="#EBEBEB"/>
<rect x="16" y="1433" width="1414" height="3" fill="#EBEBEB"/>
<rect x="844" y="1364" width="3" height="101" fill="#EBEBEB"/>
<rect x="928" y="1367" width="3" height="98" fill="#EBEBEB"/>
<rect x="1012" y="1367" width="3" height="98" fill="#EBEBEB"/>
<rect x="1096" y="1367" width="3" height="98" fill="#EBEBEB"/>
<rect x="847" y="1367" width="81" height="31" fill="#FDD795"/>
<rect x="931" y="1367" width="81" height="31" fill="#FDB52C"/>
<rect x="1015" y="1367" width="81" height="31" fill="#FFFEC6"/>
<rect x="1099" y="1367" width="81" height="31" fill="#FFFF2B"/>
<rect x="1183" y="1367" width="81" height="31" fill="#ADB6DD"/>
<rect x="1267" y="1367" width="81" height="31" fill="#C9FFE2"/>
<rect x="1351" y="1367" width="79" height="31" fill="#C9FFE2"/>
<rect x="847" y="1401" width="81" height="32" fill="#FDD795"/>
<rect x="931" y="1401" width="81" height="32" fill="#FDB52C"/>
<rect x="1015" y="1401" width="81" height="32" fill="#FFFEC6"/>
<rect x="1099" y="1401" width="81" height="32" fill="#FFFF2B"/>
<rect x="1183" y="1401" width="81" height="32" fill="#ADB6DD"/>
<rect x="1267" y="1401" width="81" height="32" fill="#C9FFE2"/>
<rect x="1351" y="1401" width="79" height="32" fill="#C9FFE2"/>
<rect x="847" y="1436" width="81" height="29" fill="#FDD795"/>
<rect x="931" y="1436" width="81" height="29" fill="#FDB52C"/>
<rect x="1015" y="1436" width="81" height="29" fill="#FFFEC6"/>
<rect x="1099" y="1436" width="81" height="29" fill="#FFFF2B"/>
<rect x="1183" y="1436" width="81" height="29" fill="#ADB6DD"/>
<rect x="1267" y="1436" width="81" height="29" fill="#C9FFE2"/>
<rect x="1351" y="1436" width="79" height="29" fill="#C9FFE2"/>
<rect x="1180" y="1398" width="87" height="3" fill="#FFFFFF"/>
<rect x="1180" y="1433" width="87" height="3" fill="#FFFFFF"/>
<rect x="1180" y="1367" width="3" height="98" fill="#FFFFFF"/>
<rect x="1264" y="1367" width="3" height="98" fill="#FFFFFF"/>
<rect x="1348" y="1367" width="3" height="98" fill="#FFFFFF"/>
<rect x="1348" y="1398" width="3" height="3" fill="#EBEBEB"/>
<rect x="1348" y="1433" width="3" height="3" fill="#EBEBEB"/>
<text transform="translate(16.94,1358) scale(0.7750,1)" font-weight="bold" letter-spacing="6.401" word-spacing="0" fill="#404040" xml:space="preserve">INDUSTRIAL</text>
<text transform="translate(18.63,1391) scale(0.7200,1)" letter-spacing="1.060" word-spacing="-2.0" fill="#3B3B3B" xml:space="preserve">Light Industrial</text>
<text transform="translate(1190.14,1391) scale(0.7995,1)" font-weight="bold" fill="#000000">See</text>
<text transform="translate(1224.72,1391) scale(0.7852,1)" font-weight="bold" fill="#000000">PUD</text>
<text transform="translate(18.63,1425) scale(0.7200,1)" letter-spacing="1.228" word-spacing="-2.0" fill="#3B3B3B" xml:space="preserve">Heavy Industrial</text>
<text transform="translate(1190.14,1425) scale(0.7995,1)" font-weight="bold" fill="#000000">See</text>
<text transform="translate(1224.72,1425) scale(0.7852,1)" font-weight="bold" fill="#000000">PUD</text>
<text transform="translate(18.70,1457) scale(0.7200,1)" letter-spacing="0.802" fill="#3B3B3B" xml:space="preserve">Utilities</text>
<text transform="translate(19.77,177) scale(0.7750,1)" font-weight="bold" letter-spacing="6.717" word-spacing="0" fill="#404040" xml:space="preserve">USES</text>
<text transform="translate(19.38,1501) scale(0.8156,1)" font-weight="bold" fill="#404040">Key:</text>
<text transform="translate(93.27,1501) scale(0.8168,1)" font-weight="bold" fill="#666666">P</text>
<text transform="translate(124.72,1501) scale(0.7866,1)" font-weight="bold" fill="#666666">Permitted</text>
<text transform="translate(264.27,1501) scale(0.7591,1)" font-weight="bold" fill="#666666">S</text>
<text transform="translate(290.86,1501) scale(0.7781,1)" font-weight="bold" fill="#666666">Special Exception</text>
</svg></body></html>
